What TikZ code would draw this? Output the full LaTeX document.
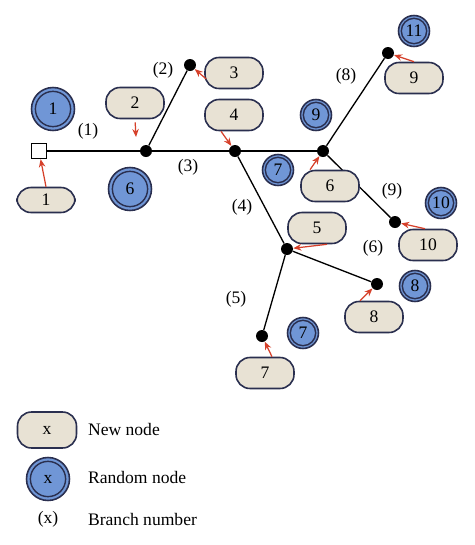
\documentclass[tikz,border=0pt]{standalone}
\usepackage{fontspec}
\setmainfont{Liberation Serif}
\usetikzlibrary{arrows.meta,backgrounds}
\definecolor{navy}{HTML}{2A2F4F}
\definecolor{tanfill}{HTML}{E8E2D4}
\definecolor{rblue}{HTML}{7096D6}
\definecolor{redarr}{HTML}{D6402A}
\begin{document}
\begin{tikzpicture}[x=0.02cm,y=-0.02cm,
  newnode/.style={draw=navy, line width=0.9pt, fill=tanfill, rounded corners=0.28cm,
    minimum width=1.16cm, minimum height=0.62cm, inner sep=0pt, font=\fontsize{10}{12}\selectfont},
  randnode/.style={circle, draw=navy, line width=0.9pt, fill=rblue, minimum size=#1, inner sep=0pt,
    path picture={\draw[navy, line width=0.8pt] (path picture bounding box.center) circle (0.41*#1);},
    font=\fontsize{10}{12}\selectfont},
  randnode/.default=0.62cm,
  dotnode/.style={circle, fill=black, minimum size=0.24cm, inner sep=0pt},
  rootnode/.style={draw=black, fill=white, line width=0.8pt, minimum size=0.3cm, inner sep=0pt},
  branch/.style={draw=black, line width=0.75pt},
  redarrow/.style={draw=redarr, line width=0.7pt, -{Stealth[length=0.16cm,width=0.13cm]}},
  lbl/.style={font=\fontsize{10}{12}\selectfont, inner sep=1pt},
]
% junctions and ends
\node[rootnode] (root) at (39,151) {};
\node[dotnode] (jA) at (146,151) {};
\node[dotnode] (jB) at (235,151) {};
\node[dotnode] (jC) at (323,151) {};
\node[dotnode] (jD) at (287,249) {};
\node[dotnode] (d2) at (190,65) {};
\node[dotnode] (d8) at (388,53) {};
\node[dotnode] (d9) at (395,222) {};
\node[dotnode] (d5) at (262,336) {};
\node[dotnode] (d6) at (377,284) {};

% lines on background
\begin{scope}[on background layer]
  \fill[white] (0,0) rectangle (474,545);
  \draw[branch] (root) -- (jA) -- (jB) -- (jC);
  \draw[branch] (jA) -- (d2);
  \draw[branch] (jB) -- (jD);
  \draw[branch] (jD) -- (d5);
  \draw[branch] (jD) -- (d6);
  \draw[branch] (jC) -- (d8);
  \draw[branch] (jC) -- (d9);
\end{scope}
\useasboundingbox (0,0) rectangle (474,545);

% new nodes
\node[newnode, minimum height=0.5cm] (b1) at (46,200) {1};
\node[newnode] (b2) at (135,103) {2};
\node[newnode] (b3) at (234,73) {3};
\node[newnode] (b4) at (234,115) {4};
\node[newnode] (b5) at (317,228) {5};
\node[newnode] (b6) at (330,186) {6};
\node[newnode] (b7) at (265,373) {7};
\node[newnode] (b8) at (374,317) {8};
\node[newnode] (b9) at (414,78) {9};
\node[newnode] (b10) at (428,245) {10};

% random nodes
\node[randnode=0.86cm] (r1) at (53,109) {1};
\node[randnode=0.86cm] (r6) at (130,189) {6};
\node[randnode] (r7a) at (278,170) {7};
\node[randnode] (r9) at (316,115) {9};
\node[randnode] (r11) at (414,31) {11};
\node[randnode] (r10) at (441,203) {10};
\node[randnode] (r8) at (415,286) {8};
\node[randnode] (r7b) at (303,333) {7};

% branch labels
\node[lbl] (l1) at (88,131) {(1)};
\node[lbl] (l2) at (163,70) {(2)};
\node[lbl] (l3) at (188,167) {(3)};
\node[lbl] (l4) at (242,207) {(4)};
\node[lbl] (l5) at (236,299) {(5)};
\node[lbl] (l6) at (373,248) {(6)};
\node[lbl] (l8) at (346,76) {(8)};
\node[lbl] (l9) at (392,191) {(9)};

% red arrows
\coordinate (a2) at (136,137);
\draw[redarrow] (b1.north) -- (root);
\draw[redarrow, shorten <=0.06cm] (b2.south) -- (a2);
\draw[redarrow] ([yshift=-0.12cm,xshift=0.04cm]b3.west) -- (d2);
\draw[redarrow] ([xshift=-0.26cm]b4.south) -- (jB);
\draw[redarrow] ([xshift=0.2cm]b5.south) -- (jD);
\draw[redarrow] ([xshift=-0.4cm]b6.north) -- (jC);
\draw[redarrow] ([xshift=0.14cm]b7.north) -- (d5);
\draw[redarrow] ([xshift=-0.28cm]b8.north) -- (d6);
\draw[redarrow] (b9.north) -- (d8);
\draw[redarrow] ([xshift=-0.06cm]b10.north) -- (d9);

% legend
\node[newnode, minimum height=0.72cm, minimum width=1.18cm] (lgb) at (47,430) {x};
\node[randnode=0.86cm] (lgc) at (48,479) {x};
\node[lbl] (lgx) at (48,519) {(x)};
\node[lbl, anchor=west] (lgt1) at (86,429) {New node};
\node[lbl, anchor=west] (lgt2) at (86,477) {Random node};
\node[lbl, anchor=west] (lgt3) at (86,519) {Branch number};
\end{tikzpicture}
\end{document}
